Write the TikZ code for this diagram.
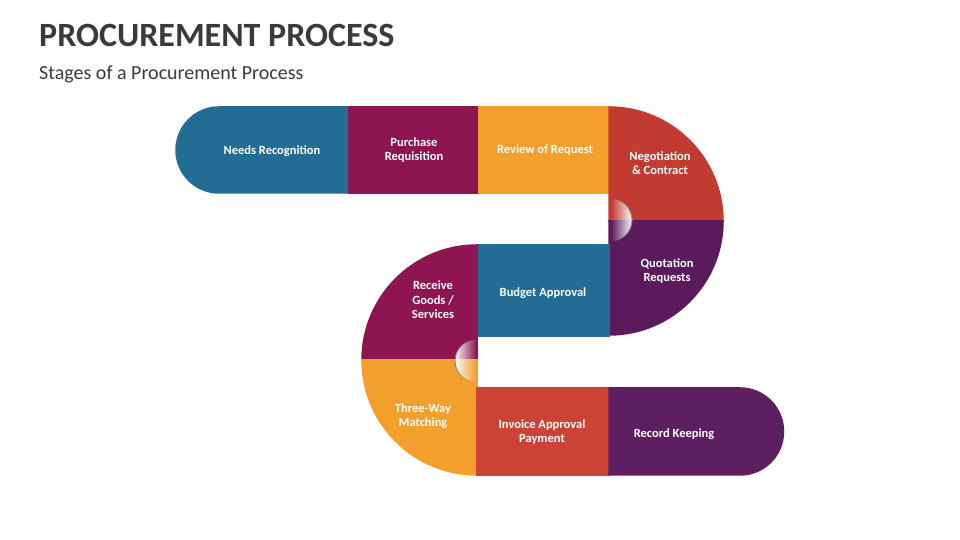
\documentclass[tikz,border=0pt]{standalone}
\usepackage{fontspec}
\setmainfont{Carlito}
\usetikzlibrary{fadings}
\tikzfading[name=fadeR, left color=transparent!100, right color=transparent!0]
\tikzfading[name=fadeL, left color=transparent!0, right color=transparent!100]
\definecolor{cblue}{HTML}{236C93}
\definecolor{cmag}{HTML}{8E1552}
\definecolor{corange}{HTML}{F29F2B}
\definecolor{cred}{HTML}{C13B30}
\definecolor{cpurple}{HTML}{5B1A5B}
\definecolor{cred2}{HTML}{CC4336}
\definecolor{cpurple2}{HTML}{5E1F61}
\definecolor{ctitle}{HTML}{3A3A3A}
\begin{document}
\begin{tikzpicture}[x=1pt,y=1pt,
 seg/.style={draw=white,line width=1.5pt},
 lbl/.style={text=white,font=\fontsize{12.5}{14.5}\selectfont\bfseries,align=center}]
\useasboundingbox (0,0) rectangle (960,540);
\node[anchor=base west,inner sep=0,text=ctitle,font=\fontsize{34}{38}\selectfont\bfseries] (title) at (39,493) {PROCUREMENT PROCESS};
\node[anchor=base west,inner sep=0,text=ctitle,font=\fontsize{20}{24}\selectfont] (sub) at (39,460) {Stages of a Procurement Process};
% top row
\fill[seg,cblue] (348,433) -- (219,433) arc[start angle=90,end angle=270,radius=43] -- (348,347) -- cycle;
\fill[seg,cmag] (349,347) rectangle (479,433);
\fill[seg,corange] (479,347) rectangle (609,433);
\fill[seg,cred] (609,319) -- (609,433) arc[start angle=90,end angle=0,radius=114] -- cycle;
\fill[seg,cpurple] (609,319) -- (723,319) arc[start angle=0,end angle=-90,radius=114] -- cycle;
% middle
\fill[seg,cblue] (477,204) rectangle (609,295);
\fill[seg,cmag] (477,180) -- (477,295) arc[start angle=90,end angle=180,radius=115] -- cycle;
\fill[seg,corange] (477,180) -- (362,180) arc[start angle=180,end angle=270,radius=115] -- cycle;
% bottom
\fill[seg,cred2] (477,65) rectangle (609,152);
\fill[seg,cpurple2] (609,65) -- (740,65) arc[start angle=-90,end angle=90,radius=43.5] -- (609,152) -- cycle;
% gloss
\fill[white!95!gray,path fading=fadeR] (611,341) arc[start angle=90,end angle=-90,radius=21] -- cycle;
\draw[gray,line width=1pt,path fading=fadeR] (611,341) arc[start angle=90,end angle=-90,radius=21];
\fill[white!95!gray,path fading=fadeL] (476,200) arc[start angle=90,end angle=270,radius=21] -- cycle;
\draw[gray,line width=1pt,path fading=fadeL] (476,200) arc[start angle=90,end angle=270,radius=21];
% labels
\node[lbl] (n1) at (272,389) {Needs Recognition};
\node[lbl] (n2) at (414,390) {Purchase\\Requisition};
\node[lbl] (n3) at (545,390) {Review of Request};
\node[lbl] (n4) at (660,377) {Negotiation\\\& Contract};
\node[lbl] (n5) at (667,269) {Quotation\\Requests};
\node[lbl] (n6) at (543,247) {Budget Approval};
\node[lbl] (n7) at (433,240) {Receive\\Goods /\\Services};
\node[lbl] (n8) at (423,124) {Three-Way\\Matching};
\node[lbl] (n9) at (542,108) {Invoice Approval\\Payment};
\node[lbl] (n10) at (674,106) {Record Keeping};
\end{tikzpicture}
\end{document}
